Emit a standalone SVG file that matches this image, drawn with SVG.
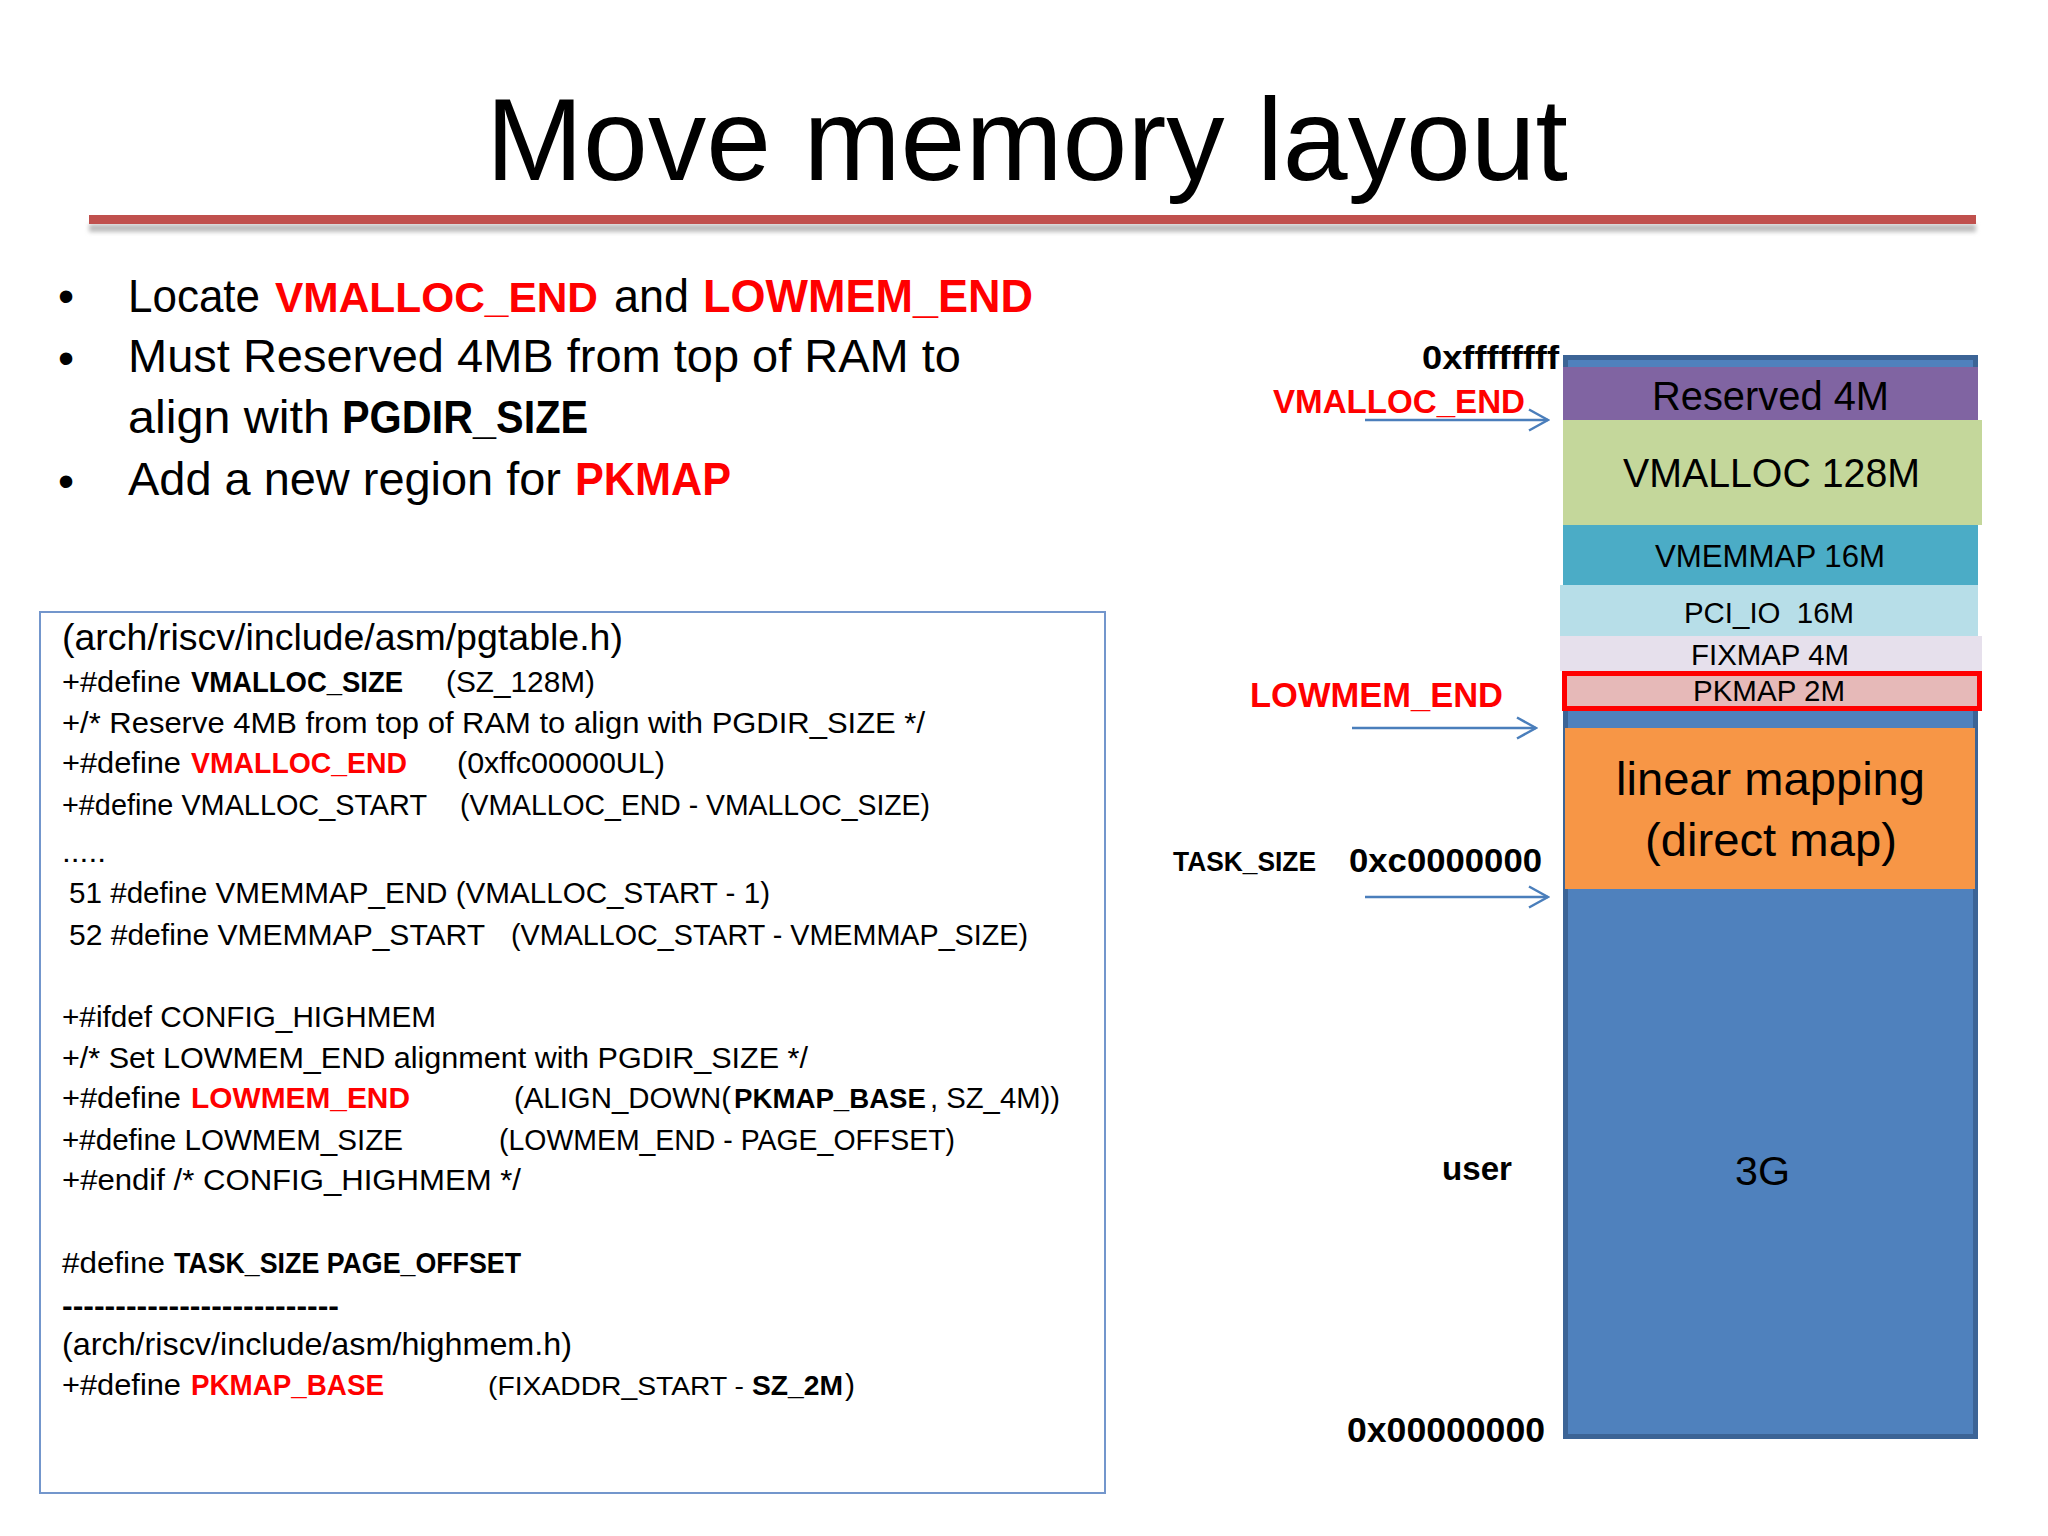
<svg xmlns="http://www.w3.org/2000/svg" width="2048" height="1536" viewBox="0 0 2048 1536">
<style>
text{font-family:"Liberation Sans",Arial,sans-serif;fill:#000}
.b{font-weight:bold}
.r{fill:#ff0000}
.bl{font-size:46px}
.c{font-size:30px}
.arrow{stroke:#4a7ebb;stroke-width:2.5;fill:none}
</style>
<defs>
<marker id="chev" viewBox="0 0 22 24" refX="20" refY="12" markerWidth="22" markerHeight="24" markerUnits="userSpaceOnUse" orient="auto">
<path d="M1,1.5 L20,12 L1,22.5" fill="none" stroke="#4a7ebb" stroke-width="2.5"/>
</marker>
<filter id="blur" x="-5%" y="-100%" width="110%" height="300%"><feGaussianBlur stdDeviation="2"/></filter>
</defs>
<rect width="2048" height="1536" fill="#ffffff"/>

<g id="title">
<text x="486" y="180" font-size="116" textLength="1082" lengthAdjust="spacingAndGlyphs">Move memory layout</text>
<rect x="89" y="224" width="1887" height="8" fill="#bdbdbd" filter="url(#blur)"/>
<rect x="89" y="215" width="1887" height="9" fill="#c0504d"/>
</g>

<g id="bullets">
<text class="bl" x="58" y="312">•</text>
<text class="bl" x="128" y="312" textLength="132" lengthAdjust="spacingAndGlyphs">Locate</text>
<text class="b r" x="275" y="312" font-size="43" textLength="323" lengthAdjust="spacingAndGlyphs">VMALLOC_END</text>
<text class="bl" x="614" y="312" textLength="75" lengthAdjust="spacingAndGlyphs">and</text>
<text class="bl b r" x="703" y="312" textLength="330" lengthAdjust="spacingAndGlyphs">LOWMEM_END</text>
<text class="bl" x="58" y="374">•</text>
<text class="bl" x="128" y="372" textLength="833" lengthAdjust="spacingAndGlyphs">Must Reserved 4MB from top of RAM to</text>
<text class="bl" x="128" y="433" textLength="202" lengthAdjust="spacingAndGlyphs">align with</text>
<text class="bl b" x="342" y="433" textLength="246" lengthAdjust="spacingAndGlyphs">PGDIR_SIZE</text>
<text class="bl" x="58" y="497">•</text>
<text class="bl" x="128" y="495" textLength="433" lengthAdjust="spacingAndGlyphs">Add a new region for</text>
<text class="bl b r" x="575" y="495" textLength="156" lengthAdjust="spacingAndGlyphs">PKMAP</text>
</g>

<g id="code-box">
<rect x="40" y="612" width="1065" height="881" fill="#ffffff" stroke="#7396cc" stroke-width="2"/>
<text x="62" y="650" font-size="37" textLength="561" lengthAdjust="spacingAndGlyphs">(arch/riscv/include/asm/pgtable.h)</text>
<text class="c" x="62" y="692" textLength="119" lengthAdjust="spacingAndGlyphs">+#define</text>
<text class="c b" x="191" y="692" textLength="212" lengthAdjust="spacingAndGlyphs">VMALLOC_SIZE</text>
<text class="c" x="446" y="692" textLength="149" lengthAdjust="spacingAndGlyphs">(SZ_128M)</text>
<text class="c" x="62" y="733" textLength="863" lengthAdjust="spacingAndGlyphs">+/* Reserve 4MB from top of RAM to align with PGDIR_SIZE */</text>
<text class="c" x="62" y="773" textLength="119" lengthAdjust="spacingAndGlyphs">+#define</text>
<text class="c b r" x="191" y="773" textLength="216" lengthAdjust="spacingAndGlyphs">VMALLOC_END</text>
<text class="c" x="457" y="773" textLength="208" lengthAdjust="spacingAndGlyphs">(0xffc00000UL)</text>
<text class="c" x="62" y="815" textLength="365" lengthAdjust="spacingAndGlyphs">+#define VMALLOC_START</text>
<text class="c" x="460" y="815" textLength="470" lengthAdjust="spacingAndGlyphs">(VMALLOC_END - VMALLOC_SIZE)</text>
<text class="c" x="62" y="862" textLength="44" lengthAdjust="spacingAndGlyphs">.....</text>
<text class="c" x="69" y="903" textLength="701" lengthAdjust="spacingAndGlyphs">51 #define VMEMMAP_END (VMALLOC_START - 1)</text>
<text class="c" x="69" y="945" textLength="416" lengthAdjust="spacingAndGlyphs">52 #define VMEMMAP_START</text>
<text class="c" x="511" y="945" textLength="517" lengthAdjust="spacingAndGlyphs">(VMALLOC_START - VMEMMAP_SIZE)</text>
<text class="c" x="62" y="1027" textLength="374" lengthAdjust="spacingAndGlyphs">+#ifdef CONFIG_HIGHMEM</text>
<text class="c" x="62" y="1068" textLength="746" lengthAdjust="spacingAndGlyphs">+/* Set LOWMEM_END alignment with PGDIR_SIZE */</text>
<text class="c" x="62" y="1108" textLength="119" lengthAdjust="spacingAndGlyphs">+#define</text>
<text class="c b r" x="191" y="1108" textLength="219" lengthAdjust="spacingAndGlyphs">LOWMEM_END</text>
<text x="514" y="1108" font-size="29" textLength="217" lengthAdjust="spacingAndGlyphs">(ALIGN_DOWN(</text>
<text class="b" x="734" y="1108" font-size="27.5" textLength="192" lengthAdjust="spacingAndGlyphs">PKMAP_BASE</text>
<text class="c" x="930" y="1108" textLength="130" lengthAdjust="spacingAndGlyphs">, SZ_4M))</text>
<text class="c" x="62" y="1150" textLength="341" lengthAdjust="spacingAndGlyphs">+#define LOWMEM_SIZE</text>
<text class="c" x="499" y="1150" textLength="456" lengthAdjust="spacingAndGlyphs">(LOWMEM_END - PAGE_OFFSET)</text>
<text class="c" x="62" y="1190" textLength="459" lengthAdjust="spacingAndGlyphs">+#endif /* CONFIG_HIGHMEM */</text>
<text class="c" x="62" y="1273" textLength="103" lengthAdjust="spacingAndGlyphs">#define</text>
<text class="c b" x="174" y="1273" textLength="347" lengthAdjust="spacingAndGlyphs">TASK_SIZE PAGE_OFFSET</text>
<text class="c b" x="62" y="1316" textLength="277" lengthAdjust="spacingAndGlyphs">--------------------------</text>
<text x="62" y="1355" font-size="32" textLength="510" lengthAdjust="spacingAndGlyphs">(arch/riscv/include/asm/highmem.h)</text>
<text class="c" x="62" y="1395" textLength="119" lengthAdjust="spacingAndGlyphs">+#define</text>
<text class="c b r" x="191" y="1395" textLength="193" lengthAdjust="spacingAndGlyphs">PKMAP_BASE</text>
<text x="488" y="1395" font-size="26.5" textLength="256" lengthAdjust="spacingAndGlyphs">(FIXADDR_START -</text>
<text class="b" x="752" y="1395" font-size="28" textLength="91" lengthAdjust="spacingAndGlyphs">SZ_2M</text>
<text class="c" x="845" y="1395">)</text>
</g>

<g id="memory-stack">
<rect x="1565.5" y="357.5" width="410" height="1079" fill="#4f81bd" stroke="#3c6496" stroke-width="5"/>
</g>
<g id="reserved-4m">
<rect x="1563" y="367" width="415" height="53" fill="#8064a2"/>
<text x="1652" y="410" font-size="41" textLength="237" lengthAdjust="spacingAndGlyphs">Reserved 4M</text>
</g>
<g id="vmalloc-128m">
<rect x="1563" y="420" width="419" height="105" fill="#c4d79b"/>
<text x="1623" y="487" font-size="40" textLength="297" lengthAdjust="spacingAndGlyphs">VMALLOC 128M</text>
</g>
<g id="vmemmap-16m">
<rect x="1563" y="525" width="415" height="60" fill="#4bacc6"/>
<text x="1655" y="567" font-size="31" textLength="230" lengthAdjust="spacingAndGlyphs">VMEMMAP 16M</text>
</g>
<g id="pci-io-16m">
<rect x="1560" y="585" width="418" height="51" fill="#b7dee8"/>
<text x="1684" y="623" font-size="30" textLength="170" lengthAdjust="spacingAndGlyphs" xml:space="preserve">PCI_IO  16M</text>
</g>
<g id="fixmap-4m">
<rect x="1560" y="636" width="422" height="35" fill="#e6e0ec"/>
<text x="1691" y="665" font-size="30" textLength="158" lengthAdjust="spacingAndGlyphs">FIXMAP 4M</text>
</g>
<g id="pkmap-2m">
<rect x="1564.5" y="673.5" width="415" height="35" fill="#e6b9b8" stroke="#ff0000" stroke-width="5"/>
<text x="1693" y="701" font-size="30" textLength="152" lengthAdjust="spacingAndGlyphs">PKMAP 2M</text>
</g>
<g id="linear-mapping">
<rect x="1565" y="728" width="410" height="161" fill="#f79646"/>
<text x="1616" y="795" font-size="47" textLength="309" lengthAdjust="spacingAndGlyphs">linear mapping</text>
<text x="1645" y="856" font-size="47" textLength="252" lengthAdjust="spacingAndGlyphs">(direct map)</text>
</g>
<g id="user-3g">
<text x="1735" y="1185" font-size="41" textLength="55" lengthAdjust="spacingAndGlyphs">3G</text>
</g>

<g id="labels">
<text class="b" x="1422" y="369" font-size="34" textLength="137" lengthAdjust="spacingAndGlyphs">0xffffffff</text>
<text class="b r" x="1273" y="413" font-size="34" textLength="252" lengthAdjust="spacingAndGlyphs">VMALLOC_END</text>
<text class="b r" x="1250" y="707" font-size="35" textLength="253" lengthAdjust="spacingAndGlyphs">LOWMEM_END</text>
<text class="b" x="1173" y="871" font-size="28" textLength="143" lengthAdjust="spacingAndGlyphs">TASK_SIZE</text>
<text class="b" x="1349" y="872" font-size="34" textLength="193" lengthAdjust="spacingAndGlyphs">0xc0000000</text>
<text class="b" x="1442" y="1180" font-size="33" textLength="70" lengthAdjust="spacingAndGlyphs">user</text>
<text class="b" x="1347" y="1442" font-size="35" textLength="198" lengthAdjust="spacingAndGlyphs">0x00000000</text>
</g>

<g id="connectors">
<line class="arrow" x1="1365" y1="420" x2="1548" y2="420" marker-end="url(#chev)"/>
<line class="arrow" x1="1352" y1="728" x2="1536" y2="728" marker-end="url(#chev)"/>
<line class="arrow" x1="1365" y1="897" x2="1548" y2="897" marker-end="url(#chev)"/>
</g>
</svg>
